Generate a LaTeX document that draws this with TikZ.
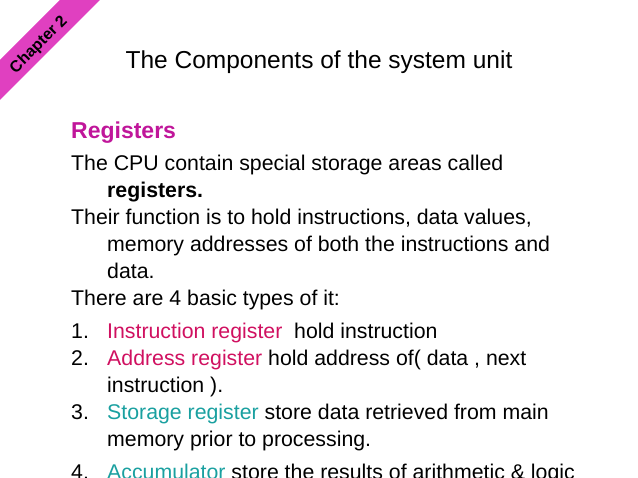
\documentclass[tikz,border=0pt]{standalone}
\usepackage{fontspec}
\setmainfont{Liberation Sans}
\definecolor{band}{HTML}{E040C0}
\definecolor{regc}{HTML}{C0169A}
\definecolor{insc}{HTML}{D01060}
\definecolor{tealc}{HTML}{1AA0A0}
\begin{document}
\begin{tikzpicture}[x=1pt,y=-1pt,
  txt/.style={anchor=base west,font=\fontsize{21.3}{24}\selectfont,inner sep=0pt}]
\useasboundingbox (0,0) rectangle (638,478);
\clip (0,0) rectangle (638,478);
\fill[band] (0,60) -- (60,0) -- (100,0) -- (0,100) -- cycle;
\node[rotate=45,font=\fontsize{16}{18}\selectfont\bfseries,inner sep=0pt] (ch) at (39,45) {Chapter 2};
\node[anchor=center,font=\fontsize{24.5}{28}\selectfont,inner sep=0pt] (title) at (319,62) {The Components of the system unit};
\node[txt,text=regc,font=\fontsize{23}{26}\selectfont\bfseries] (r) at (71,139) {Registers};
\node[txt] (l1) at (71,171) {The CPU contain special storage areas called};
\node[txt] (l2) at (107,198) {\textbf{registers.}};
\node[txt] (l3) at (71,225) {Their function is to hold instructions, data values,};
\node[txt] (l4) at (107,252) {memory addresses of both the instructions and};
\node[txt] (l5) at (107,279) {data.};
\node[txt] (l6) at (71,306) {There are 4 basic types of it:};
\node[txt] (l7) at (71,339) {1.};
\node[txt] (l7b) at (107,339) {\textcolor{insc}{Instruction register}\ \ hold instruction};
\node[txt] (l8) at (71,366) {2.};
\node[txt] (l8b) at (107,366) {\textcolor{insc}{Address register} hold address of( data , next};
\node[txt] (l9) at (107,393) {instruction ).};
\node[txt] (l10) at (71,420) {3.};
\node[txt] (l10b) at (107,420) {\textcolor{tealc}{Storage register} store data retrieved from main};
\node[txt] (l11) at (107,447) {memory prior to processing.};
\node[txt] (l12) at (71,480) {4.};
\node[txt] (l12b) at (107,480) {\textcolor{tealc}{Accumulator} store the results of arithmetic \& logic};
\end{tikzpicture}
\end{document}
